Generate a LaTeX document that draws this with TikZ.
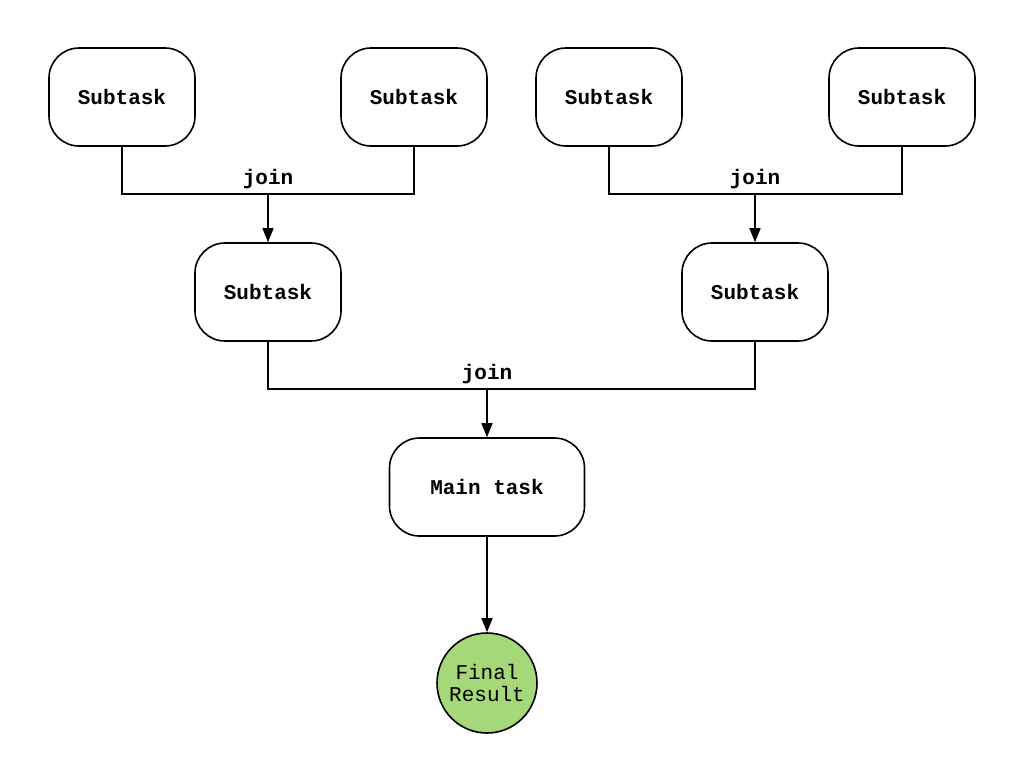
\documentclass[tikz,border=0pt]{standalone}
\usepackage{fontspec}
\setmonofont{Liberation Mono}
\usetikzlibrary{arrows.meta}

\begin{document}
\begin{tikzpicture}[x=1pt, y=1pt]
   \tikzstyle{task}=[draw, line width=1.6pt, rounded corners=30pt, minimum width=146pt, minimum height=98pt, font=\fontsize{21}{24}\selectfont\ttfamily\bfseries]
   \tikzstyle{link}=[line width=1.4pt]
   \tikzstyle{flow}=[link, -{Triangle[length=14pt, width=11pt]}]
   \tikzstyle{tag}=[font=\fontsize{21}{24}\selectfont\ttfamily\bfseries]
   \useasboundingbox (0,0) rectangle (1024,-780);

\node[task] (s1) at (122,-97) {Subtask};
\node[task] (s2) at (414,-97) {Subtask};
\node[task] (s3) at (609,-97) {Subtask};
\node[task] (s4) at (902,-97) {Subtask};
\node[task] (m1) at (268,-292) {Subtask};
\node[task] (m2) at (755,-292) {Subtask};
\node[task, minimum width=195pt] (main) at (487,-487) {Main task};
\node[draw, circle, line width=1.6pt, fill={rgb,255:red,165;green,216;blue,121}, minimum size=100pt, inner sep=0pt, align=center, font=\fontsize{21}{22}\selectfont\ttfamily] (res) at (487,-683) {Final\\Result};

\coordinate (j1) at (268,-194);
\coordinate (j2) at (755,-194);
\coordinate (j3) at (487,-389);

\draw[link] (s1.south) |- (j1) -| (s2.south);
\draw[link] (s3.south) |- (j2) -| (s4.south);
\draw[link] (m1.south) |- (j3) -| (m2.south);
\draw[flow] (j1) -- (m1.north);
\draw[flow] (j2) -- (m2.north);
\draw[flow] (j3) -- (main.north);
\draw[flow] (main.south) -- (res.north);

\node[tag, above=2pt] (l1) at (j1) {join};
\node[tag, above=2pt] (l2) at (j2) {join};
\node[tag, above=2pt] (l3) at (j3) {join};

\end{tikzpicture}
\end{document}
